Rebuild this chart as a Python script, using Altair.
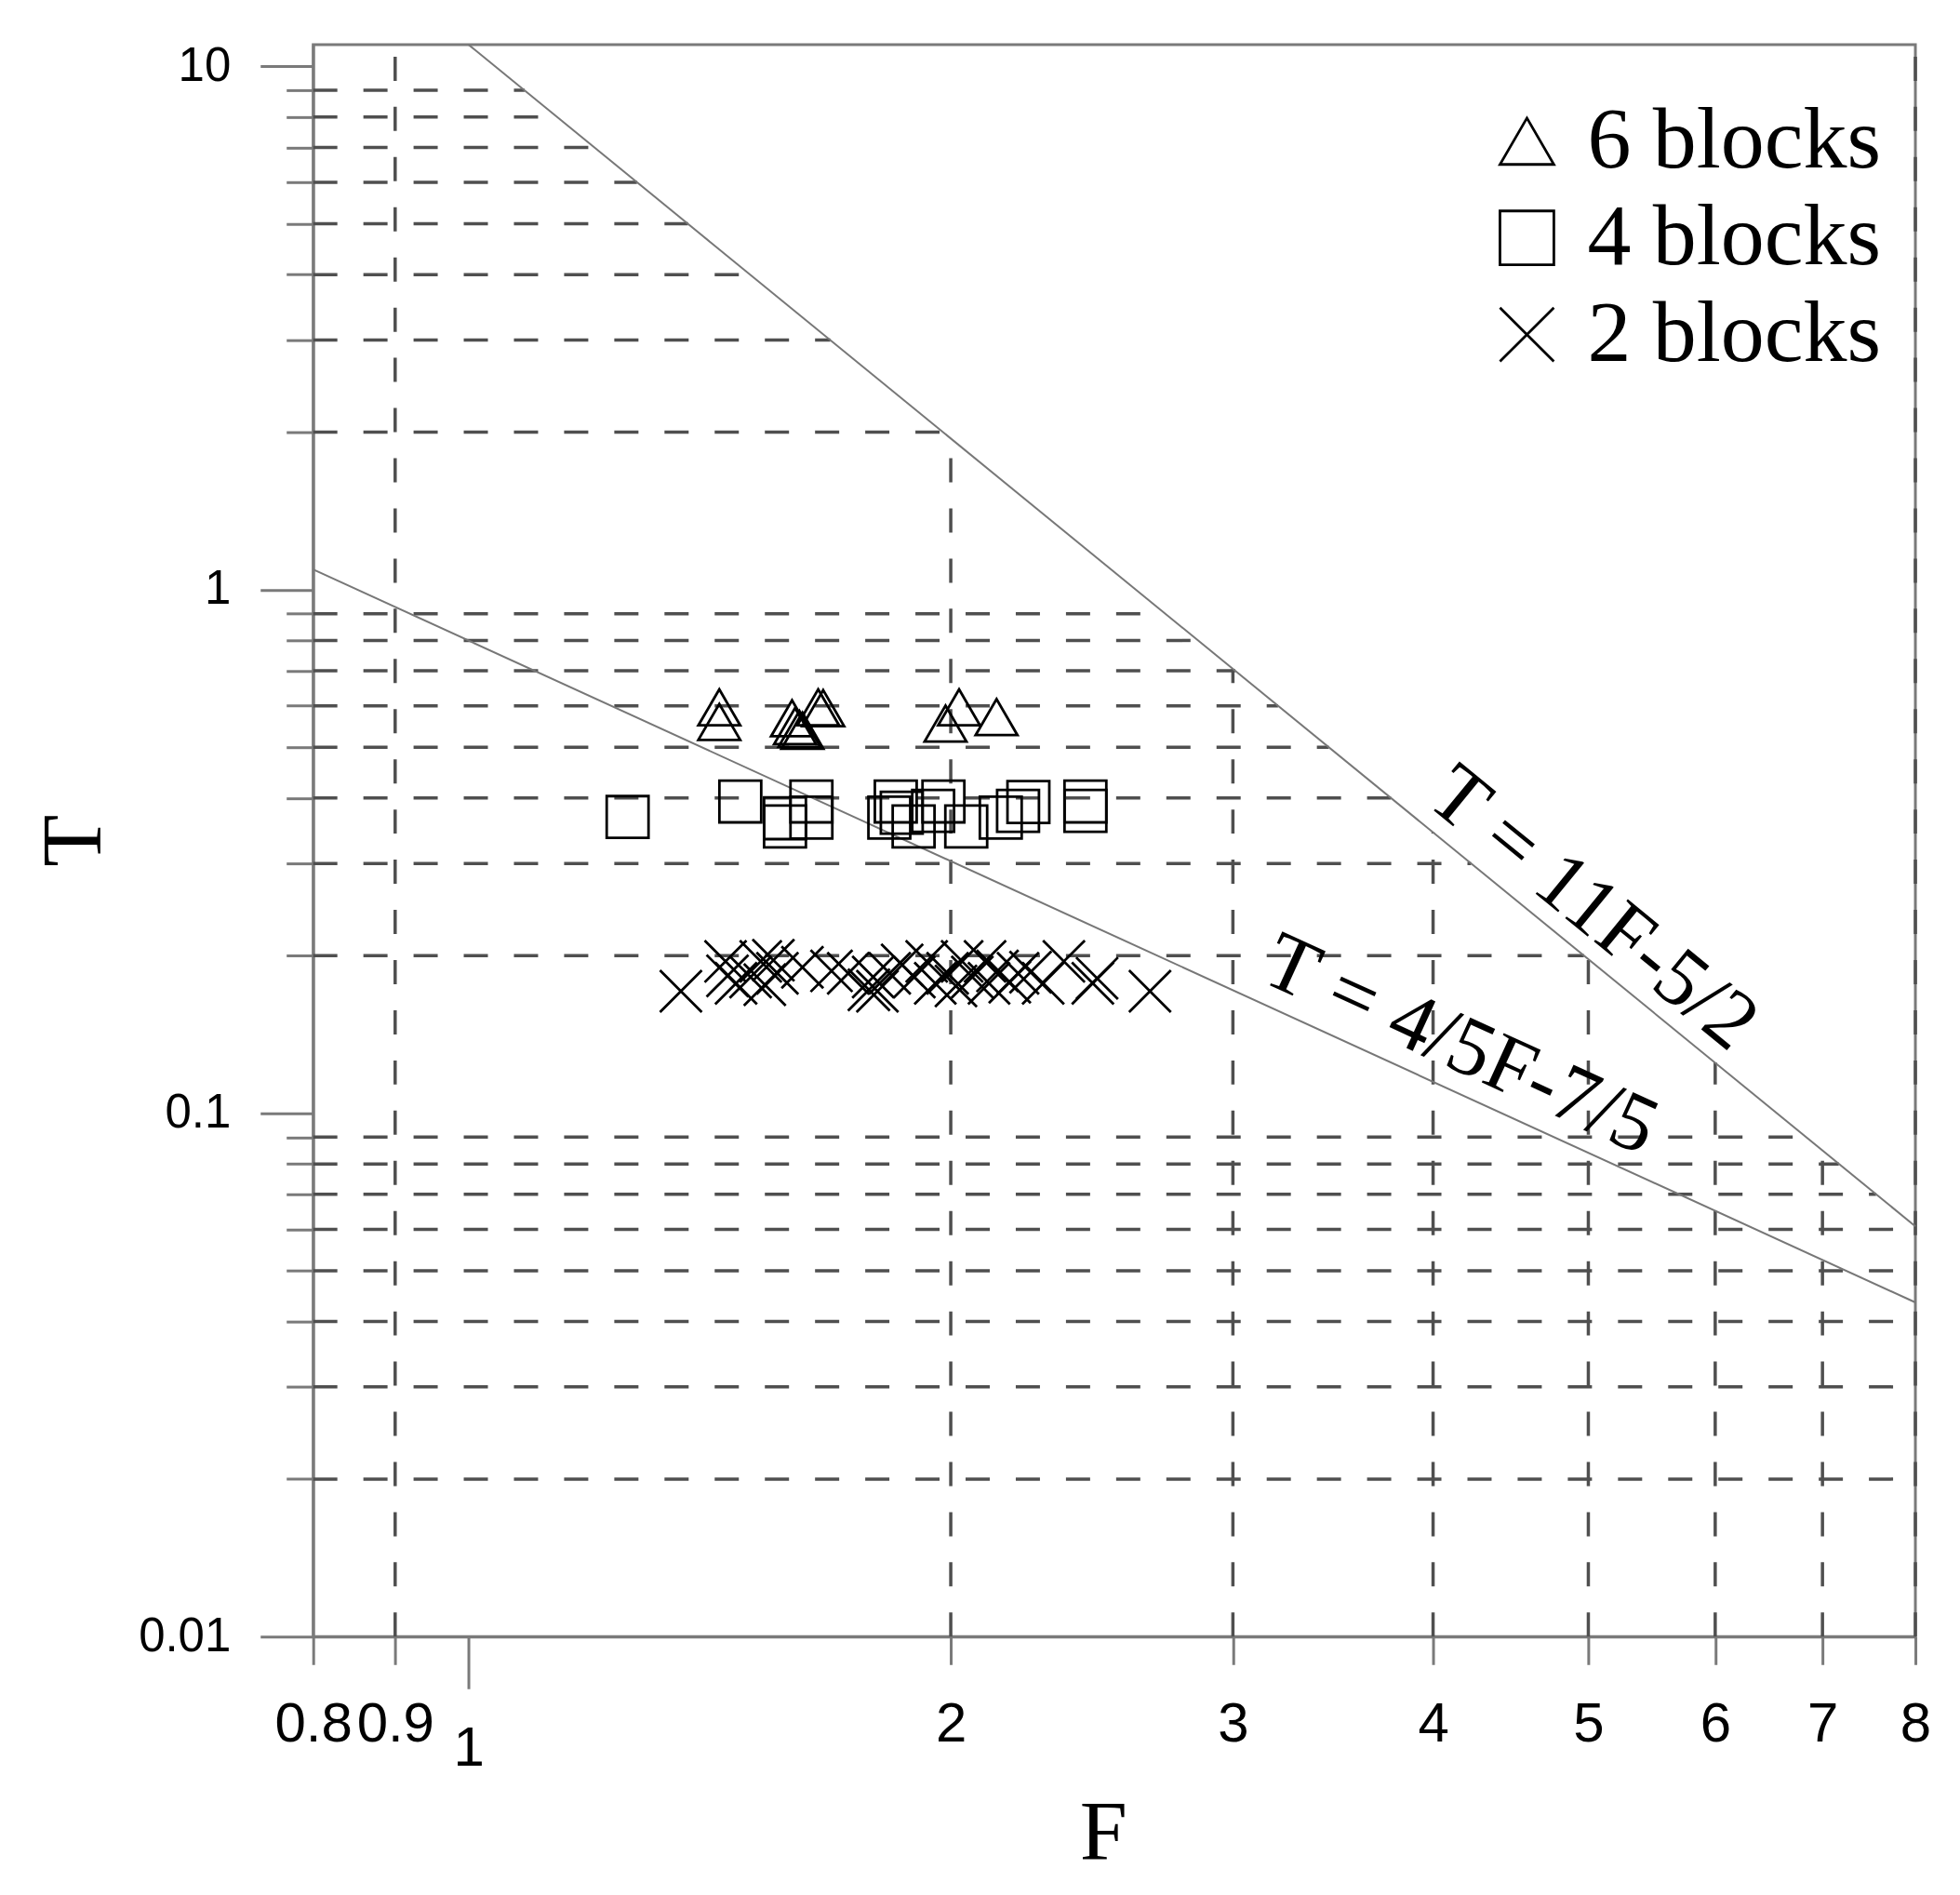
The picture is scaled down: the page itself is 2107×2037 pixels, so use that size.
import altair as alt
import pandas as pd

# ---------------- data ----------------
tri_F = [1.434, 1.434, 1.592, 1.599, 1.609, 1.616, 1.653, 1.665, 1.985, 2.024, 2.136]
tri_T = [0.596, 0.559, 0.568, 0.549, 0.542, 0.538, 0.596, 0.594, 0.555, 0.596, 0.571]

sq_F = [1.257, 1.478, 1.576, 1.576, 1.637, 1.637, 1.848, 1.831, 1.864, 1.896,
        1.979, 1.950, 2.045, 2.149, 2.203, 2.236, 2.427, 2.427]
sq_T = [0.368, 0.394, 0.366, 0.353, 0.394, 0.367, 0.394, 0.367, 0.375, 0.353,
        0.394, 0.378, 0.353, 0.367, 0.378, 0.393, 0.394, 0.378]

cr_F = [1.357, 1.447, 1.451, 1.469, 1.500, 1.522, 1.531, 1.550, 1.559, 1.616,
        1.685, 1.726, 1.778, 1.789, 1.800, 1.832, 1.865, 1.898, 1.932, 1.956,
        1.991, 2.015, 2.033, 2.063, 2.101, 2.113, 2.139, 2.177, 2.203, 2.243,
        2.284, 2.353, 2.453, 2.468, 2.663]
cr_T = [0.171, 0.195, 0.183, 0.177, 0.182, 0.195, 0.176, 0.196, 0.185, 0.190,
        0.187, 0.185, 0.172, 0.182, 0.171, 0.185, 0.192, 0.182, 0.195, 0.177,
        0.185, 0.175, 0.195, 0.182, 0.195, 0.177, 0.187, 0.178, 0.185, 0.186,
        0.177, 0.195, 0.177, 0.181, 0.171]

groups = ["6 blocks", "4 blocks", "2 blocks"]

# boundary lines  T = 11F^-5/2  and  T = 4/5 F^-7/5
upper_F = [1.0, 8.0]
upper_T = [11.0, 0.0608]
lower_F = [0.8, 8.0]
lower_T = [1.093, 0.0435]

# line labels
lab_F = [4.92, 4.10]
lab_T = [0.226, 0.122]
lab_angle = [39.3, 24.6]
lab_text = ["T = 11F-5/2", "T = 4/5F-7/5"]

# grid lines (clipped by the upper line)
vgrid_F = [0.9, 2, 3, 4, 5, 6, 7, 8]
vgrid_top = [11, 1.94, 0.706, 0.344, 0.197, 0.125, 0.0849, 11]
hgrid_T = [9, 8, 7, 6, 5, 4, 3, 2,
           0.9, 0.8, 0.7, 0.6, 0.5, 0.4, 0.3, 0.2,
           0.09, 0.08, 0.07, 0.06, 0.05, 0.04, 0.03, 0.02]
hgrid_right = [1.084, 1.136, 1.198, 1.274, 1.371, 1.499, 1.682, 1.978,
               2.722, 2.853, 3.010, 3.201, 3.443, 3.765, 4.224, 4.968,
               6.837, 7.166, 7.560, 8, 8, 8, 8, 8]

x_ticks = [0.8, 0.9, 1, 2, 3, 4, 5, 6, 7, 8]
y_ticks = [0.01, 0.02, 0.03, 0.04, 0.05, 0.06, 0.07, 0.08, 0.09,
           0.1, 0.2, 0.3, 0.4, 0.5, 0.6, 0.7, 0.8, 0.9,
           1, 2, 3, 4, 5, 6, 7, 8, 9, 10]

# ---------------- tables ----------------
pts = pd.concat([
    pd.DataFrame({"F": tri_F, "T": tri_T, "group": groups[0]}),
    pd.DataFrame({"F": sq_F, "T": sq_T, "group": groups[1]}),
    pd.DataFrame({"F": cr_F, "T": cr_T, "group": groups[2]}),
], ignore_index=True)

lines = pd.concat([
    pd.DataFrame({"F": upper_F, "T": upper_T, "name": "upper"}),
    pd.DataFrame({"F": lower_F, "T": lower_T, "name": "lower"}),
], ignore_index=True)

labels = pd.DataFrame({"F": lab_F, "T": lab_T, "angle": lab_angle, "text": lab_text})
vgrid = pd.DataFrame({"F": vgrid_F, "top": vgrid_top, "bottom": 0.01})
hgrid = pd.DataFrame({"T": hgrid_T, "left": 0.8, "right": hgrid_right})

# ---------------- scales / axes ----------------
AXC = "#7a7a7a"
xscale = alt.Scale(type="log", domain=[0.8, 8], nice=False)
yscale = alt.Scale(type="log", domain=[0.01, 11], nice=False)

major_y = "datum.value === 0.01 || datum.value === 0.1 || datum.value === 1 || datum.value === 10"

xaxis = alt.Axis(
    values=x_ticks, format="~g", grid=False,
    labelFont="Liberation Sans", labelFontSize=60, labelColor="black",
    labelPadding=35, labelOverlap=False, labelFlush=False, labelBound=False,
    tickSize={"condition": {"test": "datum.value === 1", "value": 56}, "value": 30},
    tickColor=AXC, tickWidth=3, domainColor=AXC, domainWidth=3,
    title="F", titleFont="Liberation Serif", titleFontSize=92,
    titleFontWeight="normal", titleColor="black",
    titleX=850, titleY=239, titleBaseline="alphabetic", titleAlign="center",
)
yaxis = alt.Axis(
    values=y_ticks, format="~g", grid=False,
    labelExpr="(" + major_y + ") ? datum.label : ''",
    labelFont="Liberation Sans", labelFontSize=51, labelColor="black",
    labelPadding=32, labelOverlap=False, labelFlush=False, labelBound=False,
    tickSize={"condition": {"test": major_y, "value": 57}, "value": 29},
    tickColor=AXC, tickWidth=3, domainColor=AXC, domainWidth=3,
    title="T", titleFont="Liberation Serif", titleFontSize=92,
    titleFontWeight="normal", titleColor="black",
    titleX=-229, titleY=856, titleAngle=270,
    titleBaseline="alphabetic", titleAlign="center",
)

GRID = "#4f4f4f"
DASH = [26, 28]

vg = alt.Chart(vgrid).mark_rule(color=GRID, strokeWidth=3.5, strokeDash=DASH).encode(
    x=alt.X("F:Q", scale=xscale, axis=xaxis),
    y=alt.Y("bottom:Q", scale=yscale, axis=yaxis),
    y2="top:Q",
)
hg = alt.Chart(hgrid).mark_rule(color=GRID, strokeWidth=3.5, strokeDash=DASH).encode(
    x=alt.X("left:Q", scale=xscale, axis=xaxis),
    x2="right:Q",
    y=alt.Y("T:Q", scale=yscale, axis=yaxis),
)

ln = alt.Chart(lines).mark_line(color="#777777", strokeWidth=2).encode(
    x=alt.X("F:Q", scale=xscale, axis=xaxis),
    y=alt.Y("T:Q", scale=yscale, axis=yaxis),
    detail="name:N",
)

tri_path = "M0,-0.86L1,0.86L-1,0.86Z"
sq_path = "M-1,-1L1,-1L1,1L-1,1Z"
x_path = "M-1,-1L1,1M-1,1L1,-1"

pt = alt.Chart(pts).mark_point(filled=False, color="black", strokeWidth=2.8,
                                opacity=1, size=2025).encode(
    x=alt.X("F:Q", scale=xscale, axis=xaxis),
    y=alt.Y("T:Q", scale=yscale, axis=yaxis),
    shape=alt.Shape(
        "group:N",
        scale=alt.Scale(domain=groups, range=[tri_path, sq_path, x_path]),
        legend=alt.Legend(
            title=None, orient="none", legendX=1259, legendY=57, padding=0,
            symbolSize=3364, symbolStrokeWidth=2.8, symbolStrokeColor="black",
            labelFont="Liberation Serif", labelFontSize=94, labelColor="black",
            labelOffset=18, rowPadding=10, labelLimit=0, labelBaseline="middle",
        ),
    ),
)

tx = alt.Chart(labels).mark_text(font="Liberation Serif", fontSize=89, align="center",
                                  baseline="alphabetic", color="black").encode(
    x=alt.X("F:Q", scale=xscale, axis=xaxis),
    y=alt.Y("T:Q", scale=yscale, axis=yaxis),
    angle=alt.Angle("angle:Q", scale=None),
    text="text:N",
)

chart = alt.layer(vg, hg, ln, pt, tx).properties(
    width=1724, height=1713,
    background="white",
    autosize=alt.AutoSizeParams(type="none"),
    padding={"left": 329, "top": 39, "right": 40, "bottom": 276},
).configure_view(stroke=AXC, strokeWidth=3)

chart.save("out.html", embed_options={"renderer": "svg", "actions": False})
